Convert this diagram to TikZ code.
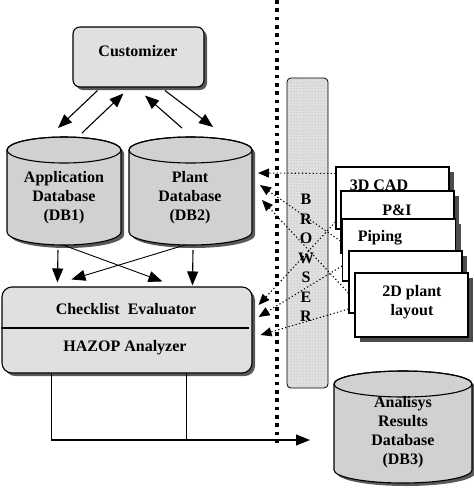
\documentclass[tikz,border=0pt]{standalone}
\usepackage{fontspec}
\setmainfont{Liberation Serif}
\usetikzlibrary{arrows.meta,shadows,patterns,calc}

\begin{document}
\begin{tikzpicture}[x=1pt,y=-1pt,line width=1.1pt,
		font=\fontsize{16}{19}\selectfont\bfseries,
		every node/.style={align=center},
		shadowed/.style={drop shadow={shadow xshift=3pt,shadow yshift=-3pt,fill=black!65,opacity=1}},
		roundbox/.style={draw,rounded corners=7pt,fill=black!12,shadowed},
		dbspace/.style={inner sep=0pt,outer sep=0pt,minimum height=108pt},
		dbbody/.style={draw,fill=black!18,shadowed},
		docbox/.style={draw,fill=white,minimum width=113pt,minimum height=62pt,
			drop shadow={shadow xshift=5pt,shadow yshift=-5pt,fill=black!70,opacity=1}},
		browserbar/.style={draw,line width=0.8pt,rounded corners=4pt,preaction={fill=black!12},pattern=dots,pattern color=black!35,minimum width=41pt,minimum height=310pt},
		solid/.style={-{Triangle[length=14pt,width=11pt]}},
		dotlink/.style={-{Triangle[length=11pt,width=9pt]},dash pattern=on 1.2pt off 2.4pt},
		sepline/.style={line width=3.6pt,dash pattern=on 3.6pt off 4.7pt}]
	\useasboundingbox (0,0) rectangle (474,488);
	\node[roundbox,minimum width=131pt,minimum height=60pt] (cust) at (138.5,57) {};
	\node (custtext) at (138,51) {Customizer};
	\node[dbspace,minimum width=114pt] (db1) at (64,191) {};
	\node[dbspace,minimum width=123pt] (db2) at (190.5,191) {};
	\node[dbspace,minimum width=138pt,minimum height=112pt] (db3) at (403,427) {};
	\foreach \db/\rx in {db1/57,db2/61.5,db3/69}{
		\draw[dbbody] ($(\db.north west)+(0,13)$) -- ($(\db.south west)+(0,-13)$)
			arc[start angle=180,end angle=360,x radius=\rx pt,y radius=13pt]
			-- ($(\db.north east)+(0,13)$)
			arc[start angle=0,end angle=180,x radius=\rx pt,y radius=13pt] -- cycle;
		\draw ($(\db.north)+(0,13)$) ellipse[x radius=\rx pt,y radius=13pt];
	}
	\node (db1text) at (64,198) {Application\\Database\\(DB1)};
	\node (db2text) at (190,198) {Plant\\Database\\(DB2)};
	\node (db3text) at (403,432) {Analisys\\Results\\Database\\(DB3)};
	\node[roundbox,rounded corners=10pt,minimum width=250pt,minimum height=86pt] (eval) at (127,330) {};
	\node (check) at (126,309) {Checklist\ \ Evaluator};
	\node (hazop) at (125,348) {HAZOP Analyzer};
	\coordinate (split) at (0,328);
	\draw (eval.west |- split) -- ($(eval.east |- split)+(-4,0)$);
	\node[browserbar] (browser) at (307.5,233) {};
	\node[font=\fontsize{16}{19.5}\selectfont\bfseries] (browsertext) at (306,258) {B\\R\\O\\W\\S\\E\\R};
	\draw[sepline] (277,0) -- (277,443);
	\node[docbox] (cad) at (392.5,198) {};
	\node (cadtext) at (379,185) {3D CAD};
	\node[docbox] (pni) at (397.5,222) {};
	\node (pnitext) at (397,210) {P\&I};
	\node[docbox] (piping) at (399,250) {};
	\node (pipingtext) at (380,238) {Piping};
	\node[docbox] (blank) at (405.5,282) {};
	\node[docbox,minimum height=64pt] (plant) at (411.5,305) {};
	\node (planttext) at (412,302.5) {2D plant\\layout};
	\draw[solid] ($(cust.south west)+(25,3)$) -- ($(db1.north)+(-6,-9)$);
	\draw[solid] ($(db1.north)+(18,-4)$) -- ($(cust.south west)+(51,6)$);
	\draw[solid] ($(db2.north)+(-8.5,-9)$) -- ($(cust.south)+(6.5,8)$);
	\draw[solid] ($(cust.south)+(26.5,3)$) -- ($(db2.north)+(22.5,-10)$);
	\draw[solid] ($(db1.south)+(-6,5)$) -- ($(eval.north west)+(56,-4)$);
	\draw[solid] ($(db2.south)+(2.5,5)$) -- ($(eval.north west)+(191,-1)$);
	\draw[solid,line width=0.9pt] ($(db1.south)+(-1,0)$) -- ($(eval.north west)+(161,-5)$);
	\draw[solid,line width=0.9pt] ($(db2.south)+(-5.5,0)$) -- ($(eval.north west)+(70,-7)$);
	\coordinate (resout) at (310,440);
	\draw[solid] ($(eval.south west)+(50,0)$) |- (resout);
	\draw ($(eval.south west)+(185,0)$) -- +(0,67);
	\draw[dotlink] ($(cad.north west)+(0,7)$) -- ($(db2.east)+(6,-18)$);
	\draw[dotlink] ($(pni.west)+(0,19)$) -- ($(db2.east)+(8,-6)$);
	\draw[dotlink] ($(blank.west)+(0,11)$) -- ($(db2.east)+(10,9)$);
	\draw[dotlink] ($(cad.west)+(0,24)$) -- ($(eval.east)+(6,-25)$);
	\draw[dotlink] ($(piping.west)+(0,16)$) -- ($(eval.east)+(6,-13)$);
	\draw[dotlink] ($(blank.west)+(0,27)$) -- ($(eval.east)+(8,5)$);
\end{tikzpicture}
\end{document}
